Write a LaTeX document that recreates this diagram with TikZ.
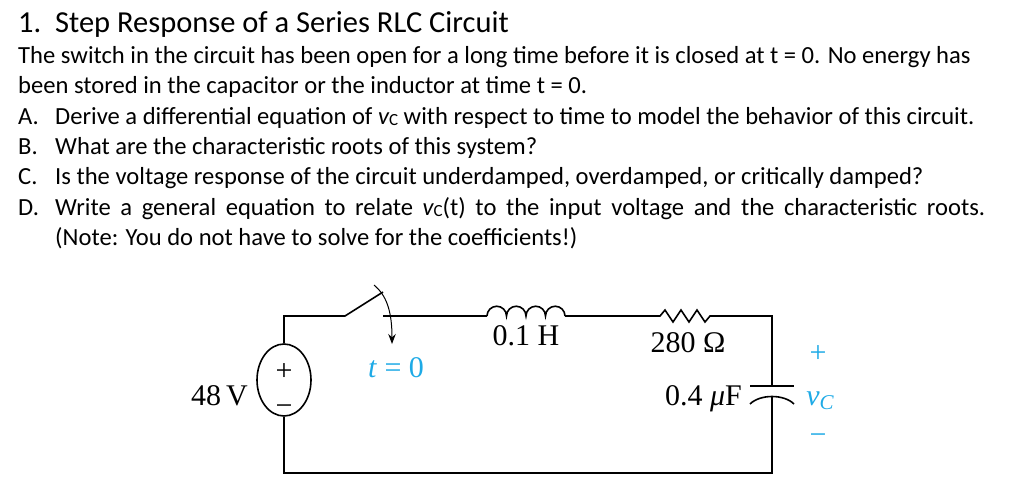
\documentclass[tikz,border=0pt]{standalone}
\usepackage{fontspec}
\setmainfont{Carlito}
\newfontfamily\circfont{Liberation Serif}
\usetikzlibrary{arrows.meta,shapes.geometric}
\definecolor{cy}{RGB}{30,170,230}
\begin{document}
\begin{tikzpicture}[x=1pt,y=-1pt,
  txt/.style={anchor=base west,inner sep=0pt,font=\fontsize{24.6}{28}\selectfont},
  wire/.style={line width=1.6pt},
  clab/.style={inner sep=0pt,font=\circfont\fontsize{30}{34}\selectfont}]
\useasboundingbox (0,0) rectangle (1024,485);
\node[txt,font=\fontsize{30.5}{34}\selectfont] (t0) at (18,32) {1.\ \ Step Response of a Series RLC Circuit};
\node[txt] (t1) at (18,63) {The switch in the circuit has been open for a long time before it is closed at t = 0. No energy has};
\node[txt] (t2) at (18,93) {been stored in the capacitor or the inductor at time t = 0.};
\node[txt] (a1) at (18,124) {A.};
\node[txt] (a2) at (55,124) {Derive a differential equation of \textit{v}\kern-0.5pt\raisebox{-1.5pt}{\fontsize{17}{18}\selectfont C} with respect to time to model the behavior of this circuit.};
\node[txt] (b1) at (18,154) {B.};
\node[txt] (b2) at (55,154) {What are the characteristic roots of this system?};
\node[txt] (c1) at (18,184) {C.};
\node[txt] (c2) at (55,184) {Is the voltage response of the circuit underdamped, overdamped, or critically damped?};
\node[txt] (d1) at (18,215) {D.};
\node[txt] (d2) at (55,215) {\makebox[930pt][s]{Write a general equation to relate \textit{v}\kern-0.5pt\raisebox{-1.5pt}{\fontsize{17}{18}\selectfont C}(t) to the input voltage and the characteristic roots.}};
\node[txt] (d3) at (55,245) {(Note: You do not have to solve for the coefficients!)};
% circuit
\coordinate (tl) at (284,316);
\coordinate (tr) at (772,316);
\coordinate (bl) at (284,473);
\coordinate (br) at (772,473);
\node[draw,wire,ellipse,minimum width=54pt,minimum height=72pt,inner sep=0pt] (src) at (284,380) {};
\node[clab,anchor=base] (sp) at (284,380) {\fontsize{30}{30}\selectfont +};
\node[clab,anchor=base] (sm) at (284,415) {\fontsize{30}{30}\selectfont −};
\coordinate (s1) at (345,316);
\coordinate (s2) at (383,316);
\coordinate (sb) at (383,292);
\coordinate (L1) at (487,316);
\coordinate (L2) at (565,316);
\coordinate (R1) at (660,316);
\coordinate (R2) at (718,316);
\coordinate (cp1) at (772,386);
\coordinate (cp2) at (772,397);
\draw[wire] (src.north) -- (tl) -- (s1) -- (sb);
\draw[wire] (s2) -- (L1);
\draw[wire] (L1) \foreach \i in {0,1,2,3} { arc[start angle=180,end angle=360,radius=9.75] } ;
\draw[wire] (L2) -- (R1) -- ++(5,-6) -- ++(8,12) -- ++(8,-12) -- ++(8,12) -- ++(8,-12) -- ++(8,12) -- ++(5,-6) -- (R2) -- (tr) -- (cp1);
\draw[wire] (cp1) ++(-22,0) -- ++(44,0);
\draw[wire] (750,404) .. controls (760,394) and (784,394) .. (794,404);
\draw[wire] (cp2) -- (br) -- (bl) -- (src.south);
\draw[line width=1pt,-{Stealth[length=10pt]}] (374,285) .. controls (386,295) and (392,310) .. (392,344);
\node[clab,anchor=base] (lL) at (526,345) {0.1 H};
\node[clab,anchor=base] (lR) at (688,352) {280 Ω};
\node[clab,anchor=base east] (lV) at (248,405) {48\,V};
\node[clab,anchor=base east] (lC) at (742,405) {0.4 \textit{μ}F};
\node[clab,anchor=base,text=cy] (lt) at (396,377) {\textit{t} = 0};
\node[clab,anchor=base,text=cy] (vp) at (818,362) {+};
\node[clab,anchor=base,text=cy] (vc) at (820,405) {\textit{v}\raisebox{-4pt}{\fontsize{21}{22}\selectfont\textit{C}}};
\node[clab,anchor=base,text=cy] (vm) at (818,444) {−};
\end{tikzpicture}
\end{document}
